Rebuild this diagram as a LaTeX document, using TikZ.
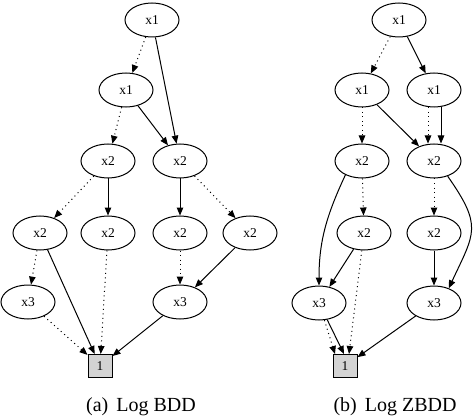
\documentclass[tikz,border=0pt]{standalone}
\usepackage{fontspec}
\setmainfont{Liberation Serif}
\usetikzlibrary{arrows.meta,shapes.geometric}
\definecolor{termfill}{HTML}{D3D3D3}
\begin{document}
\begin{tikzpicture}[x=1pt,y=-1pt,
  bddnode/.style={draw,ellipse,minimum width=54pt,minimum height=34pt,inner sep=0pt,line width=1pt,font=\fontsize{13.5}{15}\selectfont},
  termnode/.style={draw,rectangle,fill=termfill,minimum width=24pt,minimum height=23pt,inner sep=0pt,line width=1pt,font=\fontsize{13.5}{15}\selectfont},
  hi/.style={-{Triangle[length=8pt,width=6.5pt]},line width=1pt},
  lo/.style={hi,dash pattern=on 1pt off 3.5pt},
  captext/.style={anchor=base,font=\fontsize{20}{23}\selectfont,inner sep=0pt}
]
\useasboundingbox (0,0) rectangle (474,417);
% left: Log BDD
\node[bddnode] (a1) at (152,20) {x1};
\node[bddnode] (a2) at (126,90) {x1};
\node[bddnode] (a3) at (108,161) {x2};
\node[bddnode] (a4) at (180,161) {x2};
\node[bddnode] (a5) at (40,233) {x2};
\node[bddnode] (a6) at (108,233) {x2};
\node[bddnode] (a7) at (180,233) {x2};
\node[bddnode] (a8) at (250,233) {x2};
\node[bddnode] (a9) at (28,302) {x3};
\node[bddnode] (a10) at (180,302) {x3};
\node[termnode] (aT) at (100,366) {1};
\draw[lo] (a1) -- (a2);
\draw[hi] (a1) -- (a4);
\draw[lo] (a2) -- (a3);
\draw[hi] (a2) -- (a4);
\draw[lo] (a3) -- (a5);
\draw[hi] (a3) -- (a6);
\draw[hi] (a4) -- (a7);
\draw[lo] (a4) -- (a8);
\draw[lo] (a5) -- (a9);
\draw[hi] (a5) -- (aT);
\draw[lo] (a6) -- (aT);
\draw[lo] (a7) -- (a10);
\draw[hi] (a8) -- (a10);
\draw[lo] (a9) -- (aT);
\draw[hi] (a10) -- (aT);
\node[captext] (capa) at (141,411) {(a)\hspace{0.4em}Log BDD};
% right: Log ZBDD
\node[bddnode] (b1) at (399,20) {x1};
\node[bddnode] (b2) at (362,90) {x1};
\node[bddnode] (b3) at (434,90) {x1};
\node[bddnode] (b4) at (362,161) {x2};
\node[bddnode] (b5) at (434,161) {x2};
\node[bddnode] (b6) at (364,233) {x2};
\node[bddnode] (b7) at (434,233) {x2};
\node[bddnode] (b8) at (319,303) {x3};
\node[bddnode] (b9) at (434,303) {x3};
\node[termnode] (bT) at (345,366) {1};
\draw[lo] (b1) -- (b2);
\draw[hi] (b1) -- (b3);
\draw[lo] (b2) -- (b4);
\draw[hi] (b2) -- (b5);
\draw[lo] ([xshift=-6pt]b3.south) -- ([xshift=-6pt]b5.north);
\draw[hi] ([xshift=7pt]b3.south) -- ([xshift=7pt]b5.north);
\draw[hi] (b4.-140) to[out=-115,in=90] (b8.north);
\draw[lo] (b4) -- (b6);
\draw[lo] (b5) -- (b7);
\draw[hi] (b5.-48) to[out=-55,in=65,looseness=1.4] (b9.45);
\draw[hi] (b6) -- (b8);
\draw[lo] (b6) -- ([xshift=4pt]bT.north);
\draw[hi] (b7) -- (b9);
\draw[lo] (b8) -- ([xshift=-10pt]bT.north);
\draw[hi] (b8) -- ([xshift=-1pt]bT.north);
\draw[hi] (b9) -- (bT);
\node[captext] (capb) at (395,411) {(b)\hspace{0.4em}Log ZBDD};
\end{tikzpicture}
\end{document}
